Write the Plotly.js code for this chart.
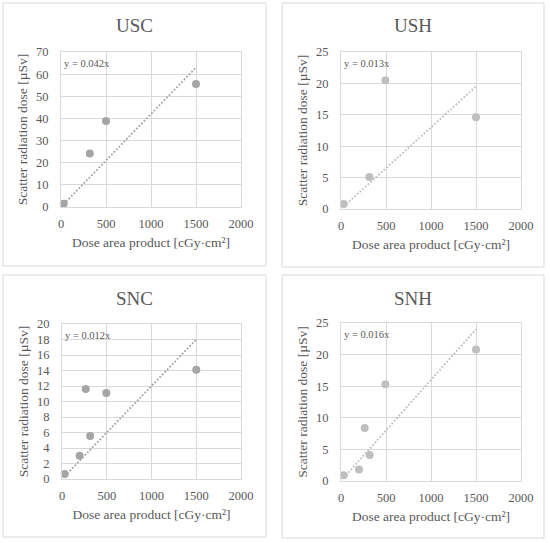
<!DOCTYPE html>
<html>
<head>
<meta charset="utf-8">
<script src="https://cdn.plot.ly/plotly-3.0.1.min.js"></script>
<style>html,body{margin:0;padding:0;background:#fff;}#chart{width:550px;height:543px;}</style>
</head>
<body>
<div id="chart"></div>
<script>
// ---- data ----
const panelNames = ["USC", "USH", "SNC", "SNH"];
const uscX = [30, 320, 500, 1500];
const uscY = [1.5, 24.2, 38.8, 55.6];
const ushX = [30, 315, 493, 1500];
const ushY = [0.8, 5.1, 20.5, 14.6];
const sncX = [30, 197, 265, 315, 495, 1500];
const sncY = [0.65, 3.0, 11.6, 5.55, 11.1, 14.1];
const snhX = [30, 200, 263, 318, 493, 1500];
const snhY = [0.9, 1.8, 8.4, 4.1, 15.3, 20.8];
const slopes = [0.042, 0.013, 0.012, 0.016];
const equations = ["y = 0.042x", "y = 0.013x", "y = 0.012x", "y = 0.016x"];
const yMax = [70, 25, 20, 25];
const yDtick = [10, 5, 2, 5];
const xTicks = [0, 500, 1000, 1500, 2000];
const xTitle = "Dose area product [cGy·cm²]";
const yTitle = "Scatter radiation dose [µSv]";

// ---- styling ----
const W = 550, H = 543;
const FONT = "'Liberation Serif', 'Times New Roman', serif";
const TXT = "#595959";
const GRID = "#d9d9d9";
const markerColors = ["#a5a5a5", "#bfbfbf", "#a5a5a5", "#bfbfbf"];
// plot rects in px: [x0, x1, yTop, yBottom]
const rects = [[61, 241, 52, 207], [341, 521, 52, 209], [62, 241, 324, 479], [341, 521, 323, 481]];
// panel boxes in px: [x0, x1, y0, y1]
const boxes = [[3, 266, 3, 266], [282, 544, 3, 267], [3, 266, 275, 537], [282, 544, 275, 538]];

const xs = [uscX, ushX, sncX, snhX];
const ys = [uscY, ushY, sncY, snhY];

const traces = [];
const layout = {
  width: W, height: H,
  margin: {l: 0, r: 0, t: 0, b: 0},
  paper_bgcolor: "#fff", plot_bgcolor: "#fff",
  showlegend: false,
  font: {family: FONT, color: TXT, size: 12},
  annotations: [], shapes: []
};

for (let i = 0; i < 4; i++) {
  const sfx = i === 0 ? "" : String(i + 1);
  const xa = "x" + sfx, ya = "y" + sfx;
  const r = rects[i];
  const xMin = Math.min(...xs[i]), xMaxD = Math.max(...xs[i]);
  traces.push({
    x: [xMin, xMaxD], y: [slopes[i] * xMin, slopes[i] * xMaxD],
    xaxis: xa, yaxis: ya, mode: "lines", type: "scatter",
    line: {color: markerColors[i], width: 1.8, dash: "1.8px,1.8px"}, hoverinfo: "skip"
  });
  traces.push({
    x: xs[i], y: ys[i], xaxis: xa, yaxis: ya, mode: "markers", type: "scatter",
    marker: {color: markerColors[i], size: 8}, cliponaxis: false
  });
  layout["xaxis" + sfx] = {
    domain: [r[0] / W, r[1] / W], anchor: ya,
    range: [0, 2000], tickvals: xTicks, ticktext: xTicks.map(String),
    showgrid: true, gridcolor: GRID, gridwidth: 1,
    showline: true, linecolor: GRID, mirror: true, zeroline: false,
    ticks: "", ticklabelstandoff: 5, tickfont: {size: 12.5, color: TXT, family: FONT},
    title: {text: xTitle, font: {size: 13.5, color: TXT, family: FONT}, standoff: 7},
    fixedrange: true
  };
  layout["yaxis" + sfx] = {
    domain: [1 - r[3] / H, 1 - r[2] / H], anchor: xa,
    range: [0, yMax[i]], dtick: yDtick[i], tick0: 0,
    showgrid: true, gridcolor: GRID, gridwidth: 1,
    showline: true, linecolor: GRID, mirror: true, zeroline: false,
    ticks: "", ticklabelstandoff: 9, tickfont: {size: 12.5, color: TXT, family: FONT},
    title: {text: yTitle, font: {size: 13.5, color: TXT, family: FONT}, standoff: 5},
    fixedrange: true
  };
  const b = boxes[i];
  layout.shapes.push({
    type: "rect", xref: "paper", yref: "paper",
    x0: b[0] / W, x1: b[1] / W, y0: 1 - b[3] / H, y1: 1 - b[2] / H,
    line: {color: GRID, width: 1}, fillcolor: "rgba(0,0,0,0)", layer: "below"
  });
  layout.annotations.push({
    xref: "paper", yref: "paper",
    x: (b[0] + b[1]) / 2 / W, y: 1 - (b[2] + 23) / H,
    text: panelNames[i], showarrow: false, xanchor: "center", yanchor: "middle",
    font: {size: 19, color: TXT, family: FONT}
  });
  layout.annotations.push({
    xref: "paper", yref: "paper",
    x: (r[0] + 1) / W, y: 1 - (r[2] + 11) / H,
    text: equations[i], showarrow: false, xanchor: "left", yanchor: "middle",
    font: {size: 10.5, color: TXT, family: FONT}
  });
}

Plotly.newPlot("chart", traces, layout, {displayModeBar: false, staticPlot: true});
</script>
</body>
</html>
